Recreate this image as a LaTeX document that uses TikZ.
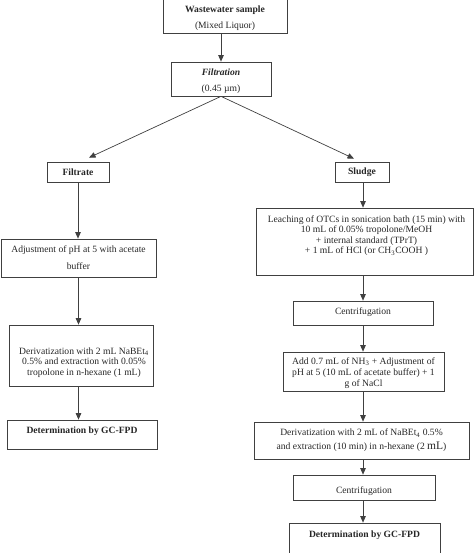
\documentclass[tikz,border=0pt]{standalone}
\usepackage{fontspec}
\setmainfont{Liberation Serif}
\usetikzlibrary{arrows.meta}
\begin{document}
\begin{tikzpicture}[x=1pt,y=-1pt,
  box/.style={draw=black!75, line width=0.7pt, inner sep=0pt, rectangle},
  txt/.style={align=center, font=\fontsize{9.6}{10.5}\selectfont, text=black!85, inner sep=0pt},
  arr/.style={draw=black!75, line width=0.7pt, -{Triangle[length=6.5pt,width=5.5pt]}}]
\useasboundingbox (0,0) rectangle (474,553);

% left / top
\node[box, minimum width=124, minimum height=38, label={[txt, font=\fontsize{9.6}{16}\selectfont, yshift=-4pt]center:{\textbf{Wastewater sample}\\(Mixed Liquor)}}] (ws) at (225,14) {};
\node[box, minimum width=100, minimum height=34, label={[txt, font=\fontsize{9.6}{16}\selectfont, yshift=-2pt]center:{\textbf{\itshape Filtration}\\(0.45 µm)}}] (filt) at (221,79) {};
\node[box, minimum width=62, minimum height=20, label={[txt]center:{\textbf{Filtrate}}}] (filtrate) at (78,172) {};
\node[box, minimum width=54, minimum height=20, label={[txt]center:{\textbf{Sludge}}}] (sludge) at (362,172) {};

\node[box, minimum width=155, minimum height=38, label={[txt, font=\fontsize{9.6}{17}\selectfont]center:{Adjustment of pH at 5 with acetate\\buffer}}] (adjust) at (78.5,258) {};
\node[box, minimum width=144, minimum height=61, label={[txt, xshift=3pt, yshift=-7pt]center:{Derivatization with 2 mL NaBEt\textsubscript{4}\\0.5\% and extraction with 0.05\%\\tropolone in n-hexane (1 mL)}}] (derivL) at (81,355.5) {};
\node[box, minimum width=150, minimum height=29, label={[txt, yshift=3.5pt]center:{\textbf{Determination by GC-FPD}}}] (detL) at (82,434.5) {};

% right
\node[box, minimum width=217, minimum height=67, label={[txt, xshift=2pt, yshift=6pt]center:{Leaching of OTCs in sonication bath (15 min) with\\10 mL of 0.05\% tropolone/MeOH\\+ internal standard (TPrT)\\+ 1 mL of HCl (or CH\textsubscript{3}COOH )}}] (leach) at (364.5,241.5) {};
\node[box, minimum width=140, minimum height=24, label={[txt, yshift=1pt]center:{Centrifugation}}] (centr1) at (363,313) {};
\node[box, minimum width=161, minimum height=39, label={[txt, font=\fontsize{9.6}{11}\selectfont, yshift=-1.5pt]center:{Add 0.7 mL of NH\textsubscript{3} + Adjustment of\\pH at 5 (10 mL of acetate buffer) + 1\\g of NaCl}}] (add) at (363.5,371.5) {};
\node[box, minimum width=215, minimum height=37, label={[txt, font=\fontsize{9.6}{14}\selectfont]center:{Derivatization with 2 mL of NaBEt\textsubscript{4} 0.5\%\\and extraction (10 min) in n-hexane (2 {\fontsize{11.5}{14}\selectfont mL})}}] (deriv2) at (361.5,440.5) {};
\node[box, minimum width=142, minimum height=25, label={[txt, yshift=-3.5pt]center:{Centrifugation}}] (centr2) at (364,487.5) {};
\node[box, minimum width=151, minimum height=37, label={[txt, yshift=6.5pt]center:{\textbf{Determination by GC-FPD}}}] (detR) at (364.5,541.5) {};

% connectors
\draw[arr] (ws.south -| filt.north) -- (filt.north);
\draw[arr] (filt.south) -- ([xshift=11pt,yshift=4pt]filtrate.north);
\draw[arr] (filt.south) -- ([xshift=-8pt,yshift=3pt]sludge.north);
\draw[arr] (filtrate.south) -- (filtrate.south |- adjust.north);
\draw[arr] (adjust.south) -- (adjust.south |- derivL.north);
\draw[arr] (adjust.south |- derivL.south) -- (adjust.south |- detL.north);
\draw[arr] (sludge.south -| centr1.north) -- (centr1.north |- leach.north);
\draw[arr] (centr1.north |- leach.south) -- (centr1.north);
\draw[arr] (centr1.south) -- (centr1.south |- add.north);
\draw[arr] (centr1.south |- add.south) -- (centr1.south |- deriv2.north);
\draw[arr] (centr1.south |- deriv2.south) -- (centr1.south |- centr2.north);
\draw[arr] (centr1.south |- centr2.south) -- (centr1.south |- detR.north);
\end{tikzpicture}
\end{document}
